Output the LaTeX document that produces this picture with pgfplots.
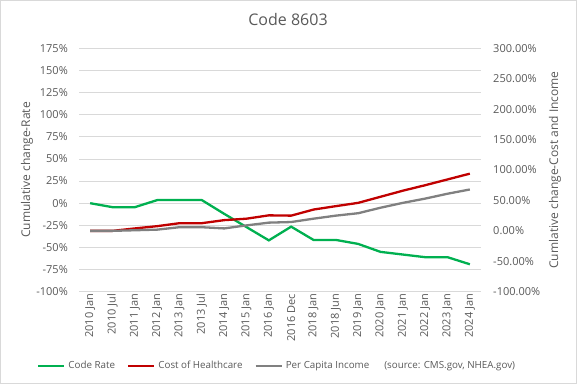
\documentclass[border=0pt]{standalone}
\usepackage{pgfplots}
\usepackage{pgfplotstable}
\pgfplotsset{compat=1.18}
\usepackage{fontspec}
\setmainfont{Open Sans}
\definecolor{cgreen}{HTML}{00B050}
\definecolor{cred}{HTML}{C00000}
\definecolor{cgrey}{HTML}{808080}
\definecolor{gridc}{HTML}{D9D9D9}
\definecolor{txt}{HTML}{595959}
\pgfplotstableread{
x rate cost income
0 0 0 0
1 -4.5 0 0
2 -4.5 4 1
3 3.5 7.7 2
4 3.5 12.6 6
5 3.5 12.6 6
6 -12 17.6 4
7 -27 20 9
8 -42 25.5 13.5
9 -26.5 25 14.5
10 -41.5 35 20
11 -41.5 40.6 25
12 -46 46 29
13 -55 56 38
14 -58 66 46
15 -61 75 53
16 -61 84.5 61
17 -69 94 68
}\data
\begin{document}
\begin{tikzpicture}[x=1pt,y=1pt]
\useasboundingbox (0,0) rectangle (577,384);
\draw[color=gridc] (0.5,0.5) rectangle (576.5,383.5);
\node[text=txt,font=\fontsize{16}{19}\selectfont] at (288,365) {Code 8603};
\begin{axis}[
  at={(79pt,92.3pt)}, anchor=south west,
  scale only axis, width=402pt, height=243.4pt,
  xmin=-0.5, xmax=17.5, ymin=-100, ymax=175,
  ytick={-100,-75,...,175},
  yticklabel={\pgfmathprintnumber[assume math mode=true]{\tick}\%},
  xtick={0,...,17},
  xticklabels={2010 Jan,2010 Jul,2011 Jan,2012 Jan,2013 Jan,2013 Jul,2014 Jan,2015 Jan,2016 Jan,2016 Dec,2018 Jan,2018 Jun,2019 Jan,2020 Jan,2021 Jan,2022 Jan,2023 Jan,2024 Jan},
  xticklabel style={rotate=90, anchor=east, font=\fontsize{11}{12}\selectfont, text=txt, inner sep=2pt},
  yticklabel style={font=\fontsize{11}{12}\selectfont, text=txt, inner sep=0pt, anchor=east, xshift=-11pt},
  major tick length=0pt,
  axis line style={draw=none},
  ymajorgrids, grid style={gridc, line width=0.75pt},
  ylabel={Cumulative change-Rate},
  every axis y label/.style={at={(-52pt,0.5)}, rotate=90, anchor=center, font=\fontsize{12}{14}\selectfont, text=txt},
  clip=false,
]
\addplot[cgreen, line width=2.3pt] table[x=x,y=rate]{\data};
\end{axis}
\begin{axis}[
  at={(79pt,92.3pt)}, anchor=south west,
  scale only axis, width=402pt, height=243.4pt,
  xmin=-0.5, xmax=17.5, ymin=-100, ymax=300,
  axis x line=none,
  axis y line*=right,
  axis line style={draw=none},
  ytick={-100,-50,...,300},
  yticklabel={\pgfmathprintnumber[fixed,fixed zerofill,precision=2,assume math mode=true]{\tick}\%},
  yticklabel style={font=\fontsize{11}{12}\selectfont, text=txt, inner sep=0pt, anchor=west, xshift=12pt},
  major tick length=0pt,
  ylabel={Cumlative change-Cost and Income},
  every axis y label/.style={at={(402pt+74pt,0.5)}, rotate=90, anchor=center, font=\fontsize{12}{14}\selectfont, text=txt},
  legend columns=4,
  legend style={at={(-0.1045,-0.305)}, anchor=west, draw=none, fill=none, inner sep=0pt,
    font=\fontsize{9.8}{12}\selectfont, text=txt,
    /tikz/every even column/.append style={column sep=10pt},
    /tikz/every odd column/.append style={column sep=1pt}},
  legend cell align=left,
  legend image code/.code={\draw[#1] (0pt,0pt) -- (26pt,0pt);},
  clip=false,
]
\addlegendimage{cgreen, line width=2.3pt}
\addlegendentry{Code Rate}
\addplot[cred, line width=2.3pt] table[x=x,y=cost]{\data};
\addlegendentry{Cost of Healthcare}
\addplot[cgrey, line width=2.3pt] table[x=x,y=income]{\data};
\addlegendentry{Per Capita Income}
\addlegendimage{empty legend}
\addlegendentry{(source: CMS.gov, NHEA.gov)}
\end{axis}
\end{tikzpicture}
\end{document}
